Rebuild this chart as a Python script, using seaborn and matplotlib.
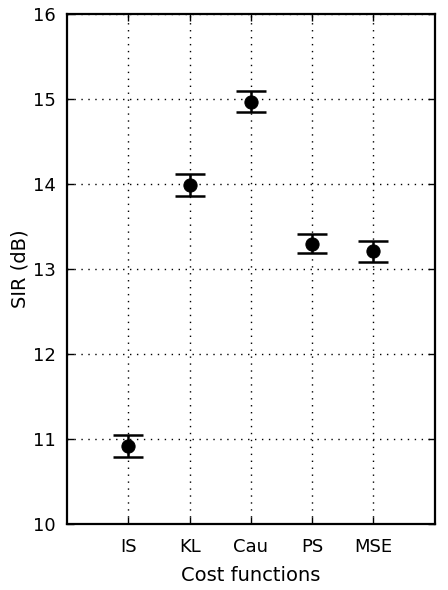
import pandas as pd
import matplotlib.pyplot as plt
import seaborn as sns

# Values
cost_functions = ['IS', 'KL', 'Cau', 'PS', 'MSE']
sir_mean = [10.92, 13.99, 14.97, 13.30, 13.21]
sir_err = [0.13, 0.125, 0.125, 0.115, 0.125]

data = pd.DataFrame({'cost': cost_functions, 'sir': sir_mean, 'err': sir_err})

sns.set_style('ticks')
plt.rcParams['font.family'] = ['DejaVu Sans']
plt.rcParams['text.color'] = 'black'
plt.rcParams['axes.labelcolor'] = 'black'

fig, ax = plt.subplots(figsize=(4.48, 5.90), dpi=100)
ax.set_axisbelow(True)
ax.grid(True, color='black', linestyle=(0, (1, 4)), linewidth=1.0)

sns.scatterplot(x='cost', y='sir', data=data, ax=ax, color='black', s=90,
                edgecolor='black', zorder=3)
ax.errorbar(data['cost'], data['sir'], yerr=data['err'], fmt='none',
            ecolor='black', elinewidth=1.8, capsize=11, capthick=1.8, zorder=3)

ax.set_xlim(-1, 5)
ax.set_ylim(10, 16)
ax.set_yticks([10, 11, 12, 13, 14, 15, 16])
ax.set_xlabel('Cost functions', fontsize=14, labelpad=7)
ax.set_ylabel('SIR (dB)', fontsize=14, labelpad=3)
ax.tick_params(direction='in', length=5, width=1, labelsize=13,
               top=True, right=True, colors='black')
ax.tick_params(axis='x', pad=10)
ax.tick_params(axis='y', pad=8)
for spine in ax.spines.values():
    spine.set_visible(True)
    spine.set_linewidth(1.6)
    spine.set_color('black')

fig.subplots_adjust(left=0.15, right=0.97, top=0.976, bottom=0.112)
fig.savefig('out.png', dpi=100)
